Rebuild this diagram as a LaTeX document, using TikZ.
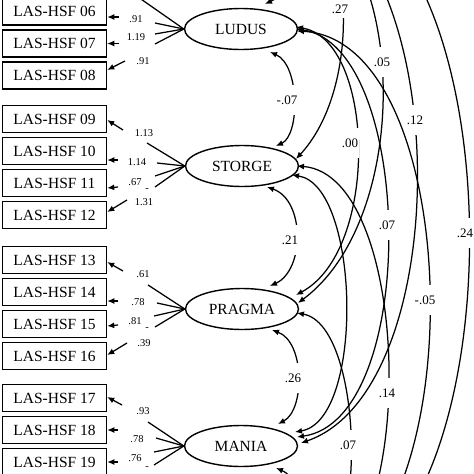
\documentclass[tikz,border=0pt]{standalone}
\usepackage{fontspec}
\setmainfont{Liberation Serif}
\usetikzlibrary{arrows.meta,shapes.geometric,calc}
\newcommand{\ldline}[6]{%
  \draw[ln] (#1.west) -- (#2);
  \draw[ln,arr] (#3) -- (#4);
  \node[ldl] at (#5) {#6};}
\begin{document}
\begin{tikzpicture}[x=1pt,y=-1pt,
  box/.style={draw,line width=1.5pt,minimum width=104pt,minimum height=27pt,inner sep=0pt,font=\fontsize{15.5}{15.5}\selectfont},
  lat/.style={draw,ellipse,line width=1.4pt,minimum width=113pt,minimum height=41pt,inner sep=0pt,font=\fontsize{15.5}{15.5}\selectfont},
  ln/.style={line width=1.25pt},
  arr/.style={-{Latex[length=7pt,width=6pt]}},
  biarr/.style={{Latex[length=7pt,width=6pt]}-{Latex[length=7pt,width=6pt]}},
  ldl/.style={font=\fontsize{10.5}{10.5}\selectfont,inner sep=0pt},
  cvl/.style={font=\fontsize{13}{13}\selectfont,fill=white,inner xsep=1pt,inner ysep=0pt,minimum height=30pt}
]
\useasboundingbox (0,0) rectangle (474,474);
\clip (0,0) rectangle (474,474);
\fill[white] (0,0) rectangle (474,474);

% latent variables
\node[lat] (lud) at (241,29) {LUDUS};
\node[lat] (sto) at (242,166) {STORGE};
\node[lat] (pra) at (242,309) {PRAGMA};
\node[lat] (man) at (241,446) {MANIA};
\coordinate (eros) at (241,-108);
\coordinate (agape) at (241,583);

% indicators
\foreach \n/\y in {06/11.5,07/43.5,08/75.5,09/119,10/151,11/183,12/215,13/260,14/292,15/324,16/356,17/398,18/430,19/462}
  \node[box] (b\n) at (54.5,\y) {LAS-HSF \n};

% loadings
\coordinate (t05) at (128,-10);
\draw[ln] (lud.west) -- (t05);
\ldline{lud}{155,23}{119,17}{b06.east |- 0,17}{136,19}{.91}
\ldline{lud}{155,34}{119,43.5}{b07.east |- 0,43.5}{136,37}{1.19}
\ldline{lud}{155,44}{125,61}{b08.east |- 0,70}{143,61}{.91}

\ldline{sto}{147,143}{123,130}{b09.east |- 0,120}{144,133}{1.13}
\ldline{sto}{157,163}{118,160}{b10.east |- 0,160}{137,162}{1.14}
\ldline{sto}{155,176}{118,187}{b11.east |- 0,188}{135,182}{.67}
\ldline{sto}{155,187}{127,200}{b12.east |- 0,212}{144,202}{1.31}
\node[ldl] (d12) at (147,190) {-};

\ldline{pra}{148,285}{123,271}{b13.east |- 0,262}{143,274}{.61}
\ldline{pra}{157,303}{118,301}{b14.east |- 0,301}{138,302}{.78}
\ldline{pra}{154,316}{118,325}{b15.east |- 0,326}{135,321}{.81}
\ldline{pra}{155,327}{127,343}{b16.east |- 0,355}{144,343}{.39}
\node[ldl] (d16) at (147,329) {-};

\ldline{man}{148,422}{122,405}{b17.east |- 0,397}{143,411}{.93}
\ldline{man}{156,438}{118,430}{b18.east |- 0,430}{137,439}{.78}
\ldline{man}{154,452}{118,462}{b19.east |- 0,462}{135,458}{.76}
\coordinate (t20) at (154,465);
\draw[ln] (man.west) -- (t20);
\node[ldl] (d20) at (147,468) {-};

% adjacent covariances
\draw[ln,biarr] ($(eros)+(30,23)$) .. controls (305,-65) and (305,-15) .. ($(lud)+(24,-25)$);
\draw[ln,biarr] ($(lud)+(29,23)$) .. controls (300,65) and (300,135) .. ($(sto)+(34,-20)$);
\node[cvl] at (287,100) {-.07};
\draw[ln,biarr] ($(sto)+(25,21)$) .. controls (305,200) and (305,270) .. ($(pra)+(28,-23)$);
\node[cvl] at (290,240) {.21};
\draw[ln,biarr] ($(pra)+(30,21)$) .. controls (305,342) and (305,410) .. ($(man)+(37,-22)$);
\node[cvl] at (293,378) {.26};
\draw[ln,biarr] ($(man)+(35,22)$) .. controls (305,480) and (305,540) .. ($(agape)+(30,-23)$);

% long covariances
\draw[ln,biarr] ($(eros)+(56,1)$) .. controls (355,-60) and (360,90) .. ($(sto)+(54,-7)$);
\node[cvl,minimum height=18pt] at (340,9) {.27};
\draw[ln,biarr] ($(eros)+(56,8)$) .. controls (410,-40) and (410,220) .. ($(pra)+(56,-6)$);
\node[cvl] at (382,62) {.05};
\draw[ln,biarr] ($(eros)+(56,5)$) .. controls (455,-40) and (455,390) .. ($(man)+(60,-3)$);
\node[cvl] at (415,120) {.12};
\draw[ln,biarr] ($(eros)+(56,3)$) .. controls (525,-105) and (525,583) .. ($(agape)+(56,-2)$);
\node[cvl] at (465,233) {.24};
\draw[ln,biarr] ($(lud)+(55,-2)$) .. controls (375,40) and (380,250) .. ($(pra)+(54,-14)$);
\node[cvl] at (350,143) {.00};
\draw[ln,biarr] ($(lud)+(55,0)$) .. controls (415,45) and (420,420) .. ($(man)+(56,-9)$);
\node[cvl] at (387,225) {.07};
\draw[ln,biarr] ($(lud)+(56,2)$) .. controls (470,40) and (475,560) .. ($(agape)+(57,0)$);
\node[cvl] at (425,300) {-.05};
\draw[ln,biarr] ($(sto)+(50,9)$) .. controls (360,185) and (365,420) .. ($(man)+(54,-14)$);
\draw[ln,biarr] ($(sto)+(55,0)$) .. controls (415,175) and (420,570) .. ($(agape)+(57,-5)$);
\node[cvl] at (387,393) {.14};
\draw[ln,biarr] ($(pra)+(55,4)$) .. controls (365,325) and (370,570) .. ($(agape)+(56,-9)$);
\node[cvl] at (348,445) {.07};
\end{tikzpicture}
\end{document}
